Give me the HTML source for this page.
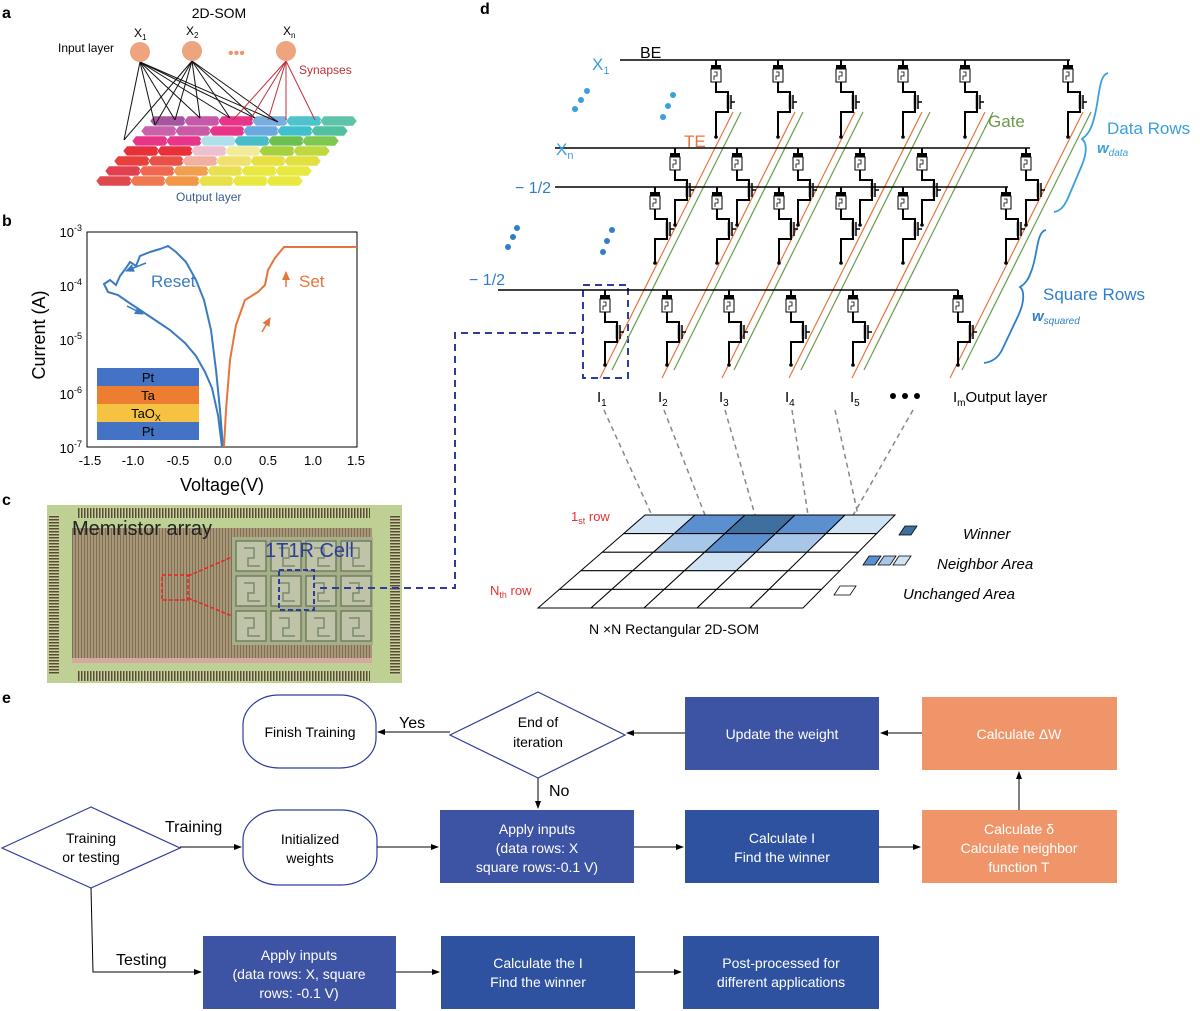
<!DOCTYPE html>
<html><head><meta charset="utf-8"><style>
html,body{margin:0;padding:0;background:#fff}
svg{display:block;font-family:"Liberation Sans",Arial,sans-serif}
</style></head><body>
<svg id="s" width="1200" height="1011" viewBox="0 0 1200 1011" xmlns="http://www.w3.org/2000/svg">
<defs>
<marker id="ar" markerWidth="8" markerHeight="8" refX="7" refY="4" orient="auto" markerUnits="userSpaceOnUse"><path d="M0,1 L8,4 L0,7 z" fill="#000"/></marker>
<marker id="ob" markerWidth="10" markerHeight="10" refX="8" refY="5" orient="auto" markerUnits="userSpaceOnUse"><path d="M0,1 L9,5 L0,9 z" fill="#e8743b"/></marker>
<marker id="bb" markerWidth="10" markerHeight="10" refX="8" refY="5" orient="auto" markerUnits="userSpaceOnUse"><path d="M0,1 L9,5 L0,9 z" fill="#3a7bbf"/></marker>
<pattern id="vs" width="3" height="10" patternUnits="userSpaceOnUse"><rect width="3" height="10" fill="#a89878"/><rect width="1" height="10" fill="#7f6d55"/></pattern>
<pattern id="pads" width="3" height="10" patternUnits="userSpaceOnUse"><rect width="3" height="10" fill="#c6d49a"/><rect width="1.5" height="10" fill="#5a4a3a"/></pattern>
<pattern id="padsv" width="10" height="3" patternUnits="userSpaceOnUse"><rect width="10" height="3" fill="#c6d49a"/><rect width="10" height="1.5" fill="#5a4a3a"/></pattern>
</defs>

<g font-weight="bold" font-size="16">
<text x="2" y="18">a</text><text x="2" y="226">b</text><text x="2" y="505">c</text><text x="480" y="14">d</text><text x="2" y="703">e</text>
</g>

<!-- ===== Panel a ===== -->
<text x="219" y="18" font-size="14" text-anchor="middle">2D-SOM</text>
<text x="58" y="52" font-size="12">Input layer</text>
<text x="134" y="37" font-size="12">X<tspan font-size="8" dy="3">1</tspan></text>
<text x="186" y="35" font-size="12">X<tspan font-size="8" dy="3">2</tspan></text>
<text x="283" y="35" font-size="12">X<tspan font-size="8" dy="3">n</tspan></text>
<text x="228" y="58" font-size="16" fill="#e8956b">•••</text>
<text x="299" y="74" font-size="12" fill="#c0303a">Synapses</text>
<g id="hex"></g>
<g id="syn" stroke-width="1"></g>
<circle cx="140" cy="52" r="10" fill="#eea47e"/><circle cx="192" cy="51" r="10" fill="#eea47e"/><circle cx="286" cy="51" r="10" fill="#eea47e"/>
<text x="176" y="201" font-size="12" fill="#3b5a93">Output layer</text>

<!-- ===== Panel b ===== -->
<rect x="87" y="232" width="270" height="215" fill="none" stroke="#000" stroke-width="1"/>
<g font-size="13" text-anchor="end">
<text x="82" y="237">10<tspan font-size="9" dy="-6">-3</tspan></text>
<text x="82" y="291">10<tspan font-size="9" dy="-6">-4</tspan></text>
<text x="82" y="345">10<tspan font-size="9" dy="-6">-5</tspan></text>
<text x="82" y="399">10<tspan font-size="9" dy="-6">-6</tspan></text>
<text x="82" y="453">10<tspan font-size="9" dy="-6">-7</tspan></text>
</g>
<g font-size="13" text-anchor="middle">
<text x="90" y="465">-1.5</text><text x="133" y="465">-1.0</text><text x="178" y="465">-0.5</text><text x="223" y="465">0.0</text><text x="268" y="465">0.5</text><text x="313" y="465">1.0</text><text x="356" y="465">1.5</text>
</g>
<text x="222" y="491" font-size="18" text-anchor="middle">Voltage(V)</text>
<text transform="translate(45,335) rotate(-90)" font-size="18" text-anchor="middle">Current (A)</text>
<path d="M222,447 L218,415 L212,388 L205,372 L196,356 L185,343 L170,330 L155,320 L140,310 L128,302 L118,295 L108,292 L104,284 L110,280 L116,285 L120,276 L126,268 L130,262 L136,266 L140,256 L150,252 L160,249 L168,246 L176,252 L186,262 L196,280 L204,300 L211,330 L216,370 L220,410 L223,447" fill="none" stroke="#3a7bbf" stroke-width="2"/>
<path d="M224,447 L226,410 L230,360 L236,325 L245,300 L258,292 L265,285 L268,270 L275,258 L284,247 L357,247" fill="none" stroke="#e8743b" stroke-width="2"/>
<line x1="146" y1="263" x2="126" y2="271" stroke="#3a7bbf" stroke-width="1.5" marker-end="url(#bb)"/>
<line x1="127" y1="306" x2="143" y2="314" stroke="#3a7bbf" stroke-width="1.5" marker-end="url(#bb)"/>
<line x1="286" y1="287" x2="286" y2="272" stroke="#e8743b" stroke-width="1.5" marker-end="url(#ob)"/>
<line x1="262" y1="332" x2="270" y2="318" stroke="#e8743b" stroke-width="1.5" marker-end="url(#ob)"/>
<text x="151" y="287" font-size="17" fill="#3a7bbf">Reset</text>
<text x="299" y="287" font-size="17" fill="#e8743b">Set</text>
<rect x="97" y="368" width="102" height="18" fill="#4472c4"/>
<rect x="97" y="386" width="102" height="18" fill="#ed7d31"/>
<rect x="97" y="404" width="102" height="18" fill="#f5c242"/>
<rect x="97" y="422" width="102" height="18" fill="#4472c4"/>
<g font-size="13" text-anchor="middle"><text x="148" y="382">Pt</text><text x="148" y="400">Ta</text><text x="146" y="418">TaO<tspan font-size="9" dy="3">X</tspan></text><text x="148" y="436">Pt</text></g>

<!-- ===== Panel c ===== -->
<rect x="47" y="505" width="355" height="178" fill="#bfd095"/>
<rect x="78" y="508" width="292" height="10" fill="url(#pads)"/>
<rect x="78" y="671" width="292" height="10" fill="url(#pads)"/>
<rect x="49" y="515" width="10" height="160" fill="url(#padsv)"/>
<rect x="390" y="515" width="10" height="160" fill="url(#padsv)"/>
<rect x="72" y="528" width="300" height="134" fill="url(#vs)"/>
<rect x="72" y="658" width="300" height="5" fill="#d4a9a0"/>
<rect x="232" y="537" width="141" height="108" fill="#a7ae8a"/>
<g id="cells" fill="none" stroke="#7b8a6c" stroke-width="1.5"></g>
<text x="72" y="535" font-size="20" fill="#222">Memristor array</text>
<text x="265" y="557" font-size="20" fill="#2d3d9b">1T1R Cell</text>
<rect x="162" y="575" width="26" height="25" fill="none" stroke="#ee2222" stroke-width="1.5" stroke-dasharray="4,2"/>
<line x1="188" y1="576" x2="232" y2="557" stroke="#ee2222" stroke-width="1.5" stroke-dasharray="4,2"/>
<line x1="188" y1="598" x2="232" y2="616" stroke="#ee2222" stroke-width="1.5" stroke-dasharray="4,2"/>
<rect x="279" y="570" width="35" height="40" fill="none" stroke="#2d3d9b" stroke-width="2" stroke-dasharray="5,3"/>
<polyline points="320,588 455,588 455,333 583,333" fill="none" stroke="#2d3d9b" stroke-width="2" stroke-dasharray="7,5"/>
<rect x="583" y="285" width="45" height="93" fill="none" stroke="#2d3d9b" stroke-width="2" stroke-dasharray="7,5"/>

<!-- ===== Panel d ===== -->
<g id="circ"></g>
<g font-size="17" fill="#3aa0dc">
<text x="592" y="70">X<tspan font-size="11" dy="4">1</tspan></text>
<text x="556" y="155">X<tspan font-size="11" dy="4">n</tspan></text>
</g>
<g fill="#3aa0dc"><circle cx="575" cy="109" r="3"/><circle cx="581" cy="100" r="3"/><circle cx="587" cy="91" r="3"/>
<circle cx="663" cy="117" r="3"/><circle cx="668" cy="106" r="3"/><circle cx="673" cy="95" r="3"/></g>
<g fill="#2f7fc8"><circle cx="508" cy="247" r="3"/><circle cx="513" cy="237" r="3"/><circle cx="517" cy="228" r="3"/>
<circle cx="603" cy="252" r="3"/><circle cx="607" cy="241" r="3"/><circle cx="612" cy="230" r="3"/></g>
<text x="640" y="58" font-size="16">BE</text>
<text x="515" y="193" font-size="16" fill="#2f7fc8">− 1/2</text>
<text x="469" y="285" font-size="16" fill="#2f7fc8">− 1/2</text>
<text x="684" y="147" font-size="17" fill="#e8743b">TE</text>
<text x="988" y="127" font-size="17" fill="#6a9a4a">Gate</text>
<text x="1107" y="134" font-size="17" fill="#3aa0dc">Data Rows</text>
<text x="1097" y="153" font-size="15" font-weight="bold" font-style="italic" fill="#3aa0dc">w<tspan font-size="10" font-weight="normal" dy="3">data</tspan></text>
<text x="1043" y="300" font-size="17" fill="#2f7fc8">Square Rows</text>
<text x="1032" y="321" font-size="15" font-weight="bold" font-style="italic" fill="#2f7fc8">w<tspan font-size="10" font-weight="normal" dy="3">squared</tspan></text>
<path d="M1108,73 C1098,75 1100,100 1093,122 C1090,132 1086,136 1082,139 C1086,142 1088,150 1082,165 L1068,198 C1064,207 1060,211 1054,212" fill="none" stroke="#3aa0dc" stroke-width="1.8"/>
<path d="M1046,230 C1036,232 1038,255 1031,272 C1028,280 1025,284 1020,287 C1024,290 1025,300 1019,314 L1002,350 C998,358 992,362 984,363" fill="none" stroke="#2f7fc8" stroke-width="1.8"/>
<g font-size="15">
<text x="597" y="402">I<tspan font-size="10" dy="4">1</tspan></text>
<text x="658" y="402">I<tspan font-size="10" dy="4">2</tspan></text>
<text x="719" y="402">I<tspan font-size="10" dy="4">3</tspan></text>
<text x="785" y="402">I<tspan font-size="10" dy="4">4</tspan></text>
<text x="850" y="402">I<tspan font-size="10" dy="4">5</tspan></text>
<text x="953" y="402">I<tspan font-size="10" dy="4">m</tspan><tspan dy="-4">Output layer</tspan></text>
</g>
<g fill="#000"><circle cx="893" cy="396" r="3"/><circle cx="905" cy="396" r="3"/><circle cx="917" cy="396" r="3"/></g>
<g stroke="#888" stroke-width="1.5" stroke-dasharray="5,4">
<line x1="604" y1="410" x2="654" y2="520"/><line x1="664" y1="410" x2="705" y2="515"/><line x1="725" y1="410" x2="755" y2="515"/><line x1="792" y1="410" x2="808" y2="515"/><line x1="835" y1="410" x2="858" y2="515"/><line x1="913" y1="410" x2="803" y2="603"/>
</g>
<g id="grid"></g>
<text x="571" y="521" font-size="13" fill="#e83030">1<tspan font-size="9" dy="3">st</tspan><tspan dy="-3"> row</tspan></text>
<text x="490" y="595" font-size="13" fill="#e83030">N<tspan font-size="9" dy="3">th</tspan><tspan dy="-3"> row</tspan></text>
<text x="589" y="634" font-size="14">N ×N Rectangular 2D-SOM</text>
<polygon points="905,526 917,526 911,535 899,535" fill="#3f6f9f" stroke="#000" stroke-width="0.8"/>
<polygon points="869,556 881,556 875,565 863,565" fill="#5b8fd0" stroke="#000" stroke-width="0.8"/>
<polygon points="884,556 896,556 890,565 878,565" fill="#a8c6e8" stroke="#000" stroke-width="0.8"/>
<polygon points="899,556 911,556 905,565 893,565" fill="#cfe3f5" stroke="#000" stroke-width="0.8"/>
<polygon points="840,586 856,586 850,595 834,595" fill="#fff" stroke="#000" stroke-width="0.8"/>
<g font-size="15" font-style="italic"><text x="963" y="539">Winner</text><text x="937" y="569">Neighbor Area</text><text x="903" y="599">Unchanged Area</text></g>

<!-- ===== Panel e ===== -->
<g stroke="#2d3d9b" stroke-width="1.2" fill="#fff">
<rect x="243" y="695" width="133" height="73" rx="36" ry="30"/>
<polygon points="450,735 538,692 625,735 538,778"/>
<polygon points="2,848 91,807 180,848 91,888"/>
<rect x="243" y="810" width="134" height="75" rx="36" ry="30"/>
</g>
<g fill="#3d53a4">
<rect x="685" y="697" width="194" height="73"/>
<rect x="440" y="810" width="194" height="73"/>
<rect x="203" y="936" width="193" height="73"/>
</g>
<g fill="#2e52a0">
<rect x="685" y="810" width="194" height="73"/>
<rect x="441" y="936" width="194" height="73"/>
<rect x="683" y="936" width="196" height="73"/>
</g>
<g fill="#f0956a"><rect x="922" y="697" width="195" height="73"/><rect x="922" y="810" width="195" height="73"/></g>
<g stroke="#000" stroke-width="1" fill="none" marker-end="url(#ar)">
<line x1="450" y1="732" x2="378" y2="732"/>
<line x1="685" y1="733" x2="627" y2="733"/>
<line x1="922" y1="733" x2="881" y2="733"/>
<line x1="538" y1="778" x2="538" y2="808"/>
<line x1="180" y1="847" x2="241" y2="847"/>
<line x1="377" y1="847" x2="438" y2="847"/>
<line x1="634" y1="847" x2="683" y2="847"/>
<line x1="879" y1="847" x2="920" y2="847"/>
<line x1="1019" y1="810" x2="1019" y2="772"/>
<polyline points="91,888 93,972 201,972"/>
<line x1="396" y1="972" x2="439" y2="972"/>
<line x1="635" y1="972" x2="681" y2="972"/>
</g>
<g font-size="14" text-anchor="middle">
<text x="310" y="737">Finish Training</text>
<text x="538" y="727">End of</text><text x="538" y="747">iteration</text>
<text x="91" y="843">Training</text><text x="91" y="862">or testing</text>
<text x="310" y="844">Initialized</text><text x="310" y="863">weights</text>
</g>
<g font-size="16"><text x="399" y="728">Yes</text><text x="549" y="796">No</text><text x="165" y="832">Training</text><text x="116" y="965">Testing</text></g>
<g font-size="14" text-anchor="middle" fill="#fff">
<text x="782" y="739">Update the weight</text>
<text x="1019" y="739">Calculate  ΔW</text>
<text x="537" y="834">Apply inputs</text><text x="537" y="853">(data rows: X</text><text x="537" y="872">square rows:-0.1 V)</text>
<text x="782" y="843">Calculate I</text><text x="782" y="862">Find the winner</text>
<text x="1019" y="834">Calculate δ</text><text x="1019" y="853">Calculate neighbor</text><text x="1019" y="872">function T</text>
<text x="299" y="960">Apply inputs</text><text x="299" y="979">(data rows: X, square</text><text x="299" y="998">rows: -0.1 V)</text>
<text x="538" y="968">Calculate the I</text><text x="538" y="987">Find the winner</text>
<text x="781" y="968">Post-processed  for</text><text x="781" y="987">different applications</text>
</g>
</svg>
<script>
var NS="http://www.w3.org/2000/svg";
function el(p,t,a){var e=document.createElementNS(NS,t);for(var k in a)e.setAttribute(k,a[k]);p.appendChild(e);return e;}
var hx=document.getElementById("hex");
var rows=[
["#a855a0","#c45aa8","#e8358a","#7aaee0","#4ec3cc","#5ec4a8"],
["#c862aa","#c85aa6","#e8358a","#6aa8e0","#40c0cc","#50c0a0"],
["#e8358a","#e8358a","#b0e0ea","#48bcc8","#6cc050","#7cc850"],
["#e8303a","#e8303a","#ecc0d0","#f2ec9a","#a6d040","#c0d840"],
["#e8403a","#e85048","#f2b0a0","#f0e070","#e8e040","#e0e040"],
["#e04050","#f06850","#f0a050","#e8e050","#e8e840","#e8e840"],
["#e04850","#f07850","#f09848","#e8e048","#e8e840","#e8e840"]];
for(var r=0;r<7;r++){for(var c=0;c<6;c++){
 var x0=150+c*34-r*9, y0=116+r*10;
 var w=33,h=10;
 el(hx,"polygon",{points:(x0+4)+","+y0+" "+(x0+w)+","+y0+" "+(x0+w+4)+","+(y0+h/2)+" "+(x0+w)+","+(y0+h)+" "+(x0+4)+","+(y0+h)+" "+x0+","+(y0+h/2),fill:rows[r][c],stroke:"#fff","stroke-width":"0.5"});
}}
var sy=document.getElementById("syn");
[[140,62],[192,61]].forEach(function(p){[[124,140],[155,125],[175,120],[200,118],[230,118],[255,118],[278,122]].forEach(function(q){el(sy,"line",{x1:p[0],y1:p[1],x2:q[0],y2:q[1],stroke:"#111"});});});
[[233,120],[250,120],[268,120],[286,120],[315,120]].forEach(function(q){el(sy,"line",{x1:286,y1:61,x2:q[0],y2:q[1],stroke:"#c0303a"});});
var cg=document.getElementById("cells");
for(var i=0;i<4;i++)for(var j=0;j<3;j++){el(cg,"rect",{x:236+i*35,y:541+j*35,width:30,height:30,fill:"#bfc4a8",stroke:"#6f8060"});el(cg,"path",{d:"M"+(244+i*35)+","+(548+j*35)+" h10 v10 h-6 v8 h12"});}
var g=document.getElementById("circ");
function line(x1,y1,x2,y2,c,w){el(g,"line",{x1:x1,y1:y1,x2:x2,y2:y2,stroke:c||"#000","stroke-width":w||1.5});}
function cell(x,yt,yb){
 line(x,yt,x,yt+5,"#000",2);
 el(g,"rect",{x:x-5,y:yt+5,width:10,height:4,fill:"#000"});
 el(g,"rect",{x:x-5,y:yt+9,width:10,height:13,fill:"#fff",stroke:"#000","stroke-width":1});
 el(g,"path",{d:"M"+(x-2)+","+(yt+12)+" h3 v4 h-3 v4",fill:"none",stroke:"#000","stroke-width":0.8});
 var ty=yt+42;
 el(g,"path",{d:"M"+x+","+(yt+22)+" V"+(ty-10)+" H"+(x+12)+" V"+(ty-6)+" M"+(x+12)+","+(ty+6)+" V"+(ty+10)+" H"+x+" V"+yb,fill:"none",stroke:"#000","stroke-width":2});
 line(x+12,ty-7,x+12,ty+7,"#000",2.5);line(x+15,ty-7,x+15,ty+7,"#000",1.5);line(x+15,ty,x+19,ty,"#000",1.5);
 el(g,"circle",{cx:x,cy:yb,r:1.8,fill:"#000"});
}
for(var k=0;k<6;k++){var bx=[600,662,722,789,852,950][k];
 el(g,"line",{x1:bx,y1:378,x2:bx+133,y2:112,stroke:"#e8743b","stroke-width":1.2});
 el(g,"line",{x1:bx+12,y1:370,x2:bx+141,y2:112,stroke:"#6a9a4a","stroke-width":1.2});}
line(620,60,1070,60,"#000",1.5);line(555,148,1030,148,"#000",1.5);line(555,187,1008,187,"#000",1.5);line(498,290,958,290,"#000",1.5);
[716,778,841,903,965,1068].forEach(function(x){cell(x,60,137);});
[675,737,798,860,922,1026].forEach(function(x){cell(x,148,225);});
[655,717,779,841,903,1006].forEach(function(x){cell(x,187,263);});
[605,667,729,791,853,958].forEach(function(x){cell(x,290,365);});
var gg=document.getElementById("grid");
var TL=[645,515],TR=[895,515],BL=[538,608],BR=[803,608];
function P(u,v){var x=TL[0]+(BL[0]-TL[0])*v+((TR[0]-TL[0])+((BR[0]-BL[0])-(TR[0]-TL[0]))*v)*u;var y=TL[1]+(BL[1]-TL[1])*v;return x+","+y;}
var col=[["#cfe3f5","#5b8fd0","#3f6f9f","#5b8fd0","#cfe3f5"],["#fff","#a8c6e8","#5b8fd0","#a8c6e8","#fff"],["#fff","#fff","#cfe3f5","#fff","#fff"],["#fff","#fff","#fff","#fff","#fff"],["#fff","#fff","#fff","#fff","#fff"]];
for(var r=0;r<5;r++)for(var c=0;c<5;c++){el(gg,"polygon",{points:P(c/5,r/5)+" "+P((c+1)/5,r/5)+" "+P((c+1)/5,(r+1)/5)+" "+P(c/5,(r+1)/5),fill:col[r][c],stroke:"#000","stroke-width":1});}
</script>
</body></html>
